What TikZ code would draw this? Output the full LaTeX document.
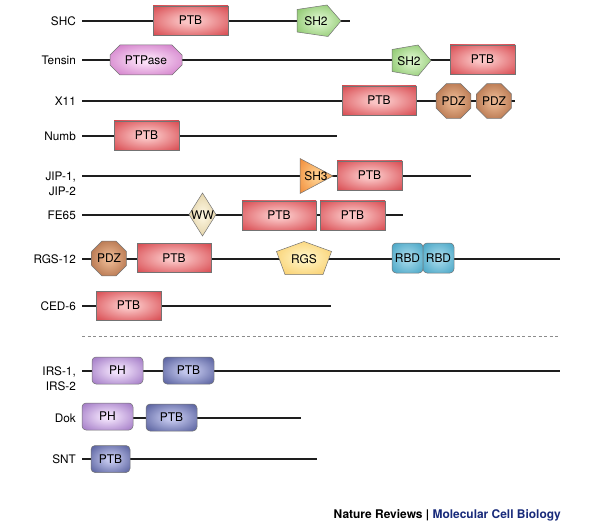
\documentclass[tikz,border=0pt]{standalone}
\usepackage{fontspec}
\setmainfont{TeX Gyre Heros}
\usetikzlibrary{shapes.geometric}
\colorlet{dominner}{white}
\colorlet{domouter}{black}
\pgfdeclareradialshading[dominner,domouter]{domshade}{\pgfpointorigin}{color(0bp)=(dominner); color(5bp)=(dominner); color(46bp)=(domouter); color(50bp)=(domouter)}
\definecolor{ptbin}{RGB}{250,196,196}
\definecolor{ptbout}{RGB}{204,30,38}
\definecolor{shin}{RGB}{216,243,200}
\definecolor{shout}{RGB}{100,176,60}
\definecolor{ppin}{RGB}{250,222,246}
\definecolor{ppout}{RGB}{190,78,180}
\definecolor{pdzin}{RGB}{232,180,142}
\definecolor{pdzout}{RGB}{148,74,34}
\definecolor{sh3in}{RGB}{253,204,138}
\definecolor{sh3out}{RGB}{238,116,26}
\definecolor{wwin}{RGB}{250,242,218}
\definecolor{wwout}{RGB}{204,180,120}
\definecolor{rgsin}{RGB}{255,242,190}
\definecolor{rgsout}{RGB}{246,188,66}
\definecolor{rbdin}{RGB}{160,214,232}
\definecolor{rbdout}{RGB}{36,146,184}
\definecolor{phin}{RGB}{240,224,250}
\definecolor{phout}{RGB}{130,80,176}
\definecolor{ptbbin}{RGB}{194,198,236}
\definecolor{ptbbout}{RGB}{44,54,126}
\definecolor{footblue}{RGB}{24,42,122}
\definecolor{lineblack}{RGB}{30,30,30}
\tikzset{
  dom/.style 2 args={draw=black!55, line width=0.5bp, shading=domshade,
    /utils/exec={\colorlet{dominner}{#1}\colorlet{domouter}{#2}},
    inner sep=0pt, font=\fontsize{12}{13}\selectfont},
  dptb/.style={dom={ptbin}{ptbout}},
  dsh/.style={dom={shin}{shout}},
  dpp/.style={dom={ppin}{ppout}},
  dpdz/.style={dom={pdzin}{pdzout}, regular polygon, regular polygon sides=8, minimum size=37.5bp},
  dsh3/.style={dom={sh3in}{sh3out}},
  dww/.style={dom={wwin}{wwout}},
  drgs/.style={dom={rgsin}{rgsout}},
  drbd/.style={dom={rbdin}{rbdout}, rounded corners=4bp, minimum width=31bp, minimum height=30bp},
  dph/.style={dom={phin}{phout}, rounded corners=4bp, minimum width=51bp, minimum height=27bp},
  dptbb/.style={dom={ptbbin}{ptbbout}, rounded corners=4bp, minimum height=27bp},
  dtext/.style={inner sep=0pt, font=\fontsize{12}{13}\selectfont},
  lab/.style={anchor=east, inner sep=0pt, font=\fontsize{11.8}{15}\selectfont},
  lab2/.style={anchor=north east, inner sep=0pt, align=right, font=\fontsize{11.8}{15}\selectfont},
  backbone/.style={draw=lineblack, line width=1.8bp},
  divider/.style={draw=black!45, line width=0.8bp, dash pattern=on 3bp off 2.5bp},
}
\begin{document}
\begin{tikzpicture}[x=1bp,y=-1bp]
\useasboundingbox (0,0) rectangle (600,528);
% ---- labels
\node[lab] (lshc) at (76,21) {SHC};
\node[lab] (lten) at (76,60) {Tensin};
\node[lab] (lx11) at (76,101) {X11};
\node[lab] (lnumb) at (76,136) {Numb};
\node[lab2] (ljip) at (76,171.8) {JIP-1,\\JIP-2};
\node[lab] (lfe) at (76,215) {FE65};
\node[lab] (lrgs) at (76,259) {RGS-12};
\node[lab] (lced) at (76,306) {CED-6};
\node[lab2] (lirs) at (76,366.8) {IRS-1,\\IRS-2};
\node[lab] (ldok) at (76,418) {Dok};
\node[lab] (lsnt) at (76,459) {SNT};
% ---- backbones
\coordinate (shcA) at (82,21);  \coordinate (shcB) at (350,21);
\coordinate (tenA) at (82,60);    \coordinate (tenB) at (450,60);
\coordinate (x11A) at (82,101); \coordinate (x11B) at (515,101);
\coordinate (numbA) at (82,136); \coordinate (numbB) at (337,136);
\coordinate (jipA) at (82,176); \coordinate (jipB) at (471,176);
\coordinate (feA) at (82,215);    \coordinate (feB) at (403,215);
\coordinate (rgsA) at (82,259); \coordinate (rgsB) at (560,259);
\coordinate (cedA) at (82,306); \coordinate (cedB) at (331,306);
\coordinate (divA) at (82,336);   \coordinate (divB) at (560,336);
\coordinate (irsA) at (82,371); \coordinate (irsB) at (560,371);
\coordinate (dokA) at (82,418); \coordinate (dokB) at (301,418);
\coordinate (sntA) at (82,459);   \coordinate (sntB) at (317,459);
\draw[backbone] (shcA) -- (shcB);
\draw[backbone] (tenA) -- (tenB);
\draw[backbone] (x11A) -- (x11B);
\draw[backbone] (numbA) -- (numbB);
\draw[backbone] (jipA) -- (jipB);
\draw[backbone] (feA) -- (feB);
\draw[backbone] (rgsA) -- (rgsB);
\draw[backbone] (cedA) -- (cedB);
\draw[divider] (divA) -- (divB);
\draw[backbone] (irsA) -- (irsB);
\draw[backbone] (dokA) -- (dokB);
\draw[backbone] (sntA) -- (sntB);
% ---- SHC
\node[dptb, minimum width=75bp, minimum height=29bp] (shcptb) at (190.5,20.5) {PTB};
\path[dsh] (297,9.5) -- (327,5) -- (341,21) -- (328,36.5) -- (297,32) -- cycle;
\node[dtext] (shcsh2) at (316,21) {SH2};
% ---- Tensin
\path[dpp] (120,45) -- (172,45) -- (182,55) -- (182,65) -- (172,75) -- (120,75) -- (110,65) -- (110,55) -- cycle;
\node[dtext] (tenpp) at (146,60) {PTPase};
\path[dsh] (392,49.5) -- (418,45) -- (431,60.5) -- (418,76) -- (392,71.5) -- cycle;
\node[dtext] (tensh2) at (409,61) {SH2};
\node[dptb, minimum width=65bp, minimum height=29bp] (tenptb) at (482.5,59.5) {PTB};
% ---- X11
\node[dptb, minimum width=74bp, minimum height=29bp] (x11ptb) at (379,100.5) {PTB};
\node[dpdz] (x11pdz1) at (453.5,101) {PDZ};
\node[dpdz] (x11pdz2) at (494,101) {PDZ};
% ---- Numb
\node[dptb, minimum width=65bp, minimum height=29bp] (numbptb) at (146.5,135.5) {PTB};
% ---- JIP
\path[dsh3] (300,158.5) -- (333,176) -- (300,193.5) -- cycle;
\node[dtext] (jipsh3) at (316,176) {SH3};
\node[dptb, minimum width=65bp, minimum height=29bp] (jipptb) at (369.5,175.5) {PTB};
% ---- FE65
\path[dww] (202.5,193) -- (216,214.5) -- (202.5,236) -- (189,214.5) -- cycle;
\node[dtext] (feww) at (202.5,215) {WW};
\node[dptb, minimum width=74bp, minimum height=29bp] (feptb1) at (279,215.5) {PTB};
\node[dptb, minimum width=65bp, minimum height=29bp] (feptb2) at (352.5,215.5) {PTB};
% ---- RGS-12
\node[dpdz] (rgspdz) at (109,258.5) {PDZ};
\node[dptb, minimum width=74bp, minimum height=29bp] (rgsptb) at (174,258) {PTB};
\path[drgs] (304,241.5) -- (331.5,251.5) -- (323,274.5) -- (285,274.5) -- (276.5,251.5) -- cycle;
\node[dtext] (rgsrgs) at (304,259.5) {RGS};
\node[drbd] (rgsrbd1) at (407.5,258) {RBD};
\node[drbd] (rgsrbd2) at (438.5,258) {RBD};
% ---- CED-6
\node[dptb, minimum width=65bp, minimum height=29bp] (cedptb) at (128.5,305.5) {PTB};
% ---- IRS
\node[dph] (irsph) at (117.5,370.5) {PH};
\node[dptbb, minimum width=51bp] (irsptb) at (188.5,370.5) {PTB};
% ---- Dok
\node[dph] (dokph) at (107.5,416.5) {PH};
\node[dptbb, minimum width=51bp] (dokptb) at (171.5,417.5) {PTB};
% ---- SNT
\node[dptbb, minimum width=39bp] (sntptb) at (110.5,459) {PTB};
% ---- footer
\node[anchor=base east, inner sep=0pt, font=\bfseries\fontsize{12}{14}\selectfont] (footer) at (561,518)
  {Nature Reviews | \textcolor{footblue}{Molecular Cell Biology}};
\end{tikzpicture}
\end{document}
